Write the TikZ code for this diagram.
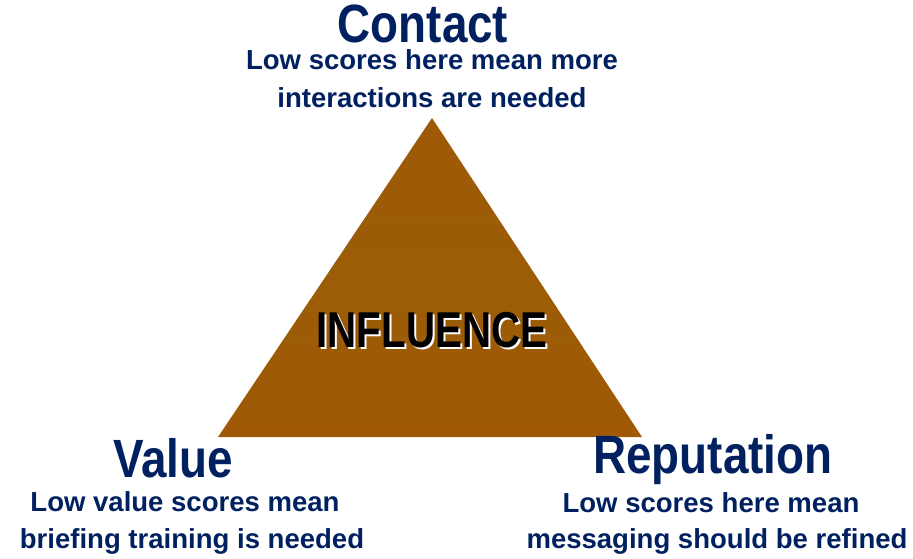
\documentclass[tikz,border=0pt]{standalone}
\usepackage{fontspec}
\setmainfont{Liberation Sans}
\definecolor{navy}{RGB}{0,32,96}
\pgfdeclareverticalshading{trishade}{100bp}{color(0bp)=(rgb:red,0.43;green,0.24;blue,0.02); color(25bp)=(rgb:red,0.43;green,0.24;blue,0.02); color(50bp)=(rgb:red,0.98;green,0.59;blue,0.04); color(75bp)=(rgb:red,0.43;green,0.24;blue,0.02); color(100bp)=(rgb:red,0.43;green,0.24;blue,0.02)}
\begin{document}
\begin{tikzpicture}[x=0.03cm,y=-0.03cm,
  title/.style={text=navy,font=\bfseries\fontsize{46}{46}\selectfont,inner sep=0},
  sub/.style={text=navy,font=\bfseries\fontsize{23.5}{23.5}\selectfont,inner sep=0}]
\useasboundingbox (0,0) rectangle (913,559);
\begin{scope}[y=0.03cm,yshift=-559*0.03cm]
\coordinate (A) at (432,441);
\coordinate (B) at (218,122);
\coordinate (C) at (642,122);
\shade[shading=trishade] (A) -- (B) -- (C) -- cycle;
\end{scope}
\node[text=white,font=\bfseries\fontsize{43}{43}\selectfont] (infs) at (434,332) {\scalebox{0.8}[1]{INFLUENCE}};
\node[text=black,font=\bfseries\fontsize{43}{43}\selectfont] (inf) at (432,330) {\scalebox{0.8}[1]{INFLUENCE}};
\node[title] (ct) at (423,24) {\scalebox{0.85}[1]{Contact}};
\node[sub] (c1) at (432,60) {Low scores here mean more};
\node[sub] (c2) at (432,98) {interactions are needed};
\node[title] (vt) at (173,458) {\scalebox{0.85}[1]{Value}};
\node[sub] (v1) at (185,502) {Low value scores mean};
\node[sub] (v2) at (192,541) {briefing training is needed};
\node[title] (rt) at (713,460) {\scalebox{0.85}[1]{Reputation}};
\node[sub] (r1) at (711,503) {Low scores here mean};
\node[sub] (r2) at (717,541) {messaging should be refined};
\end{tikzpicture}
\end{document}
